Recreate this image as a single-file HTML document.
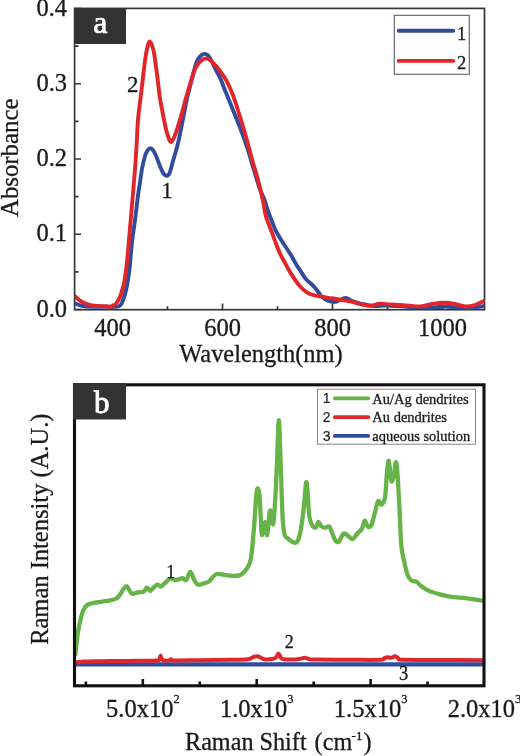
<!DOCTYPE html>
<html><head><meta charset="utf-8"><title>Absorbance and Raman spectra</title>
<style>
html,body{margin:0;padding:0;background:#fff;}
body{width:520px;height:756px;overflow:hidden;}
svg{display:block;}
</style></head><body>
<svg width="520" height="756" viewBox="0 0 520 756">
<g>
<clipPath id="c1"><rect x="75" y="8" width="409.5" height="301.5"/></clipPath>
<clipPath id="c2"><rect x="75" y="384" width="409" height="301"/></clipPath>
<rect x="74.6" y="8.4" width="409.9" height="301.3" fill="none" stroke="#363636" stroke-width="1.7"/>
<path d="M75 309.50 h6 M75 271.88 h3.5 M75 234.25 h6 M75 196.62 h3.5 M75 159.00 h6 M75 121.38 h3.5 M75 83.75 h6 M75 46.12 h3.5 M75 8.50 h6 M112.50 309.7 v-6.2 M167.50 309.7 v-3.5 M222.50 309.7 v-6.2 M277.50 309.7 v-3.5 M332.50 309.7 v-6.2 M387.50 309.7 v-3.5 M442.50 309.7 v-6.2" stroke="#363636" stroke-width="1.7" fill="none"/>
<g clip-path="url(#c1)" fill="none" stroke-width="3.9" stroke-linejoin="round" stroke-linecap="round">
<path d="M75.00 303.30 C75.83 303.63 78.33 304.80 80.00 305.30 C81.67 305.80 82.50 306.07 85.00 306.30 C87.50 306.53 90.83 306.62 95.00 306.70 C99.17 306.78 106.67 306.78 110.00 306.80 C113.33 306.82 113.58 306.90 115.00 306.80 C116.42 306.70 117.50 306.58 118.50 306.20 C119.50 305.82 120.08 305.95 121.00 304.50 C121.92 303.05 123.12 300.08 124.00 297.50 C124.88 294.92 125.63 291.92 126.30 289.00 C126.97 286.08 127.42 283.77 128.00 280.00 C128.58 276.23 129.27 271.40 129.80 266.40 C130.33 261.40 130.73 254.90 131.20 250.00 C131.67 245.10 132.03 241.45 132.60 237.00 C133.17 232.55 133.70 230.20 134.60 223.30 C135.50 216.40 137.08 202.53 138.00 195.60 C138.92 188.67 139.40 186.33 140.10 181.70 C140.80 177.07 141.30 172.33 142.20 167.80 C143.10 163.27 144.53 157.50 145.50 154.50 C146.47 151.50 147.20 150.83 148.00 149.80 C148.80 148.77 149.55 148.35 150.30 148.30 C151.05 148.25 151.72 148.63 152.50 149.50 C153.28 150.37 154.08 151.58 155.00 153.50 C155.92 155.42 157.08 158.67 158.00 161.00 C158.92 163.33 159.58 165.42 160.50 167.50 C161.42 169.58 162.48 172.12 163.50 173.50 C164.52 174.88 165.58 175.88 166.60 175.80 C167.62 175.72 168.53 175.47 169.60 173.00 C170.67 170.53 171.60 165.97 173.00 161.00 C174.40 156.03 176.25 150.63 178.00 143.20 C179.75 135.77 182.00 123.83 183.50 116.40 C185.00 108.97 185.67 104.55 187.00 98.60 C188.33 92.65 189.96 86.65 191.50 80.70 C193.04 74.75 194.83 66.93 196.25 62.90 C197.67 58.87 198.66 58.00 200.00 56.50 C201.34 55.00 203.05 54.15 204.30 53.90 C205.55 53.65 206.38 53.98 207.50 55.00 C208.62 56.02 209.60 57.53 211.00 60.00 C212.40 62.47 214.33 66.72 215.90 69.80 C217.47 72.88 218.92 75.18 220.40 78.50 C221.88 81.82 222.73 84.53 224.80 89.70 C226.87 94.87 230.15 102.88 232.80 109.50 C235.45 116.12 238.22 122.78 240.70 129.40 C243.18 136.02 245.55 142.60 247.70 149.20 C249.85 155.80 251.58 162.38 253.60 169.00 C255.62 175.62 258.00 183.80 259.80 188.90 C261.60 194.00 262.97 195.73 264.40 199.60 C265.83 203.47 267.17 208.57 268.40 212.10 C269.63 215.63 270.60 217.75 271.80 220.80 C273.00 223.85 274.18 227.45 275.60 230.40 C277.02 233.35 278.73 235.90 280.30 238.50 C281.87 241.10 283.33 243.42 285.00 246.00 C286.67 248.58 288.42 250.93 290.30 254.00 C292.18 257.07 294.57 261.53 296.30 264.40 C298.03 267.27 299.17 268.83 300.70 271.20 C302.23 273.57 303.98 276.68 305.50 278.60 C307.02 280.52 308.37 281.35 309.80 282.70 C311.23 284.05 312.65 285.10 314.10 286.70 C315.55 288.30 317.13 290.57 318.50 292.30 C319.87 294.03 320.72 295.68 322.30 297.10 C323.88 298.52 325.88 300.00 328.00 300.80 C330.12 301.60 333.00 302.03 335.00 301.90 C337.00 301.77 338.20 300.65 340.00 300.00 C341.80 299.35 343.97 297.92 345.80 298.00 C347.63 298.08 349.13 299.75 351.00 300.50 C352.87 301.25 354.67 301.83 357.00 302.50 C359.33 303.17 362.00 303.92 365.00 304.50 C368.00 305.08 371.67 305.83 375.00 306.00 C378.33 306.17 381.67 305.50 385.00 305.50 C388.33 305.50 391.67 305.83 395.00 306.00 C398.33 306.17 401.67 306.25 405.00 306.50 C408.33 306.75 411.67 307.33 415.00 307.50 C418.33 307.67 421.67 307.50 425.00 307.50 C428.33 307.50 431.67 307.67 435.00 307.50 C438.33 307.33 441.67 306.50 445.00 306.50 C448.33 306.50 451.67 307.25 455.00 307.50 C458.33 307.75 461.67 308.00 465.00 308.00 C468.33 308.00 471.83 307.83 475.00 307.50 C478.17 307.17 482.50 306.25 484.00 306.00" stroke="#314c9c"/>
<path d="M75.00 296.30 C75.83 297.02 78.33 299.45 80.00 300.60 C81.67 301.75 83.33 302.50 85.00 303.20 C86.67 303.90 88.33 304.37 90.00 304.80 C91.67 305.23 92.50 305.55 95.00 305.80 C97.50 306.05 102.50 306.15 105.00 306.30 C107.50 306.45 108.58 306.78 110.00 306.70 C111.42 306.62 112.42 306.42 113.50 305.80 C114.58 305.18 115.37 304.65 116.50 303.00 C117.63 301.35 119.30 298.23 120.30 295.90 C121.30 293.57 121.87 291.18 122.50 289.00 C123.13 286.82 123.43 286.57 124.10 282.80 C124.77 279.03 125.83 271.87 126.50 266.40 C127.17 260.93 127.62 255.23 128.10 250.00 C128.58 244.77 129.02 239.45 129.40 235.00 C129.78 230.55 129.83 229.87 130.40 223.30 C130.97 216.73 132.02 204.85 132.80 195.60 C133.58 186.35 134.47 176.23 135.10 167.80 C135.73 159.37 136.12 152.97 136.60 145.00 C137.08 137.03 137.38 127.50 138.00 120.00 C138.62 112.50 139.55 106.33 140.30 100.00 C141.05 93.67 141.82 87.77 142.50 82.00 C143.18 76.23 143.70 70.65 144.40 65.40 C145.10 60.15 145.80 54.48 146.70 50.50 C147.60 46.52 148.67 41.50 149.80 41.50 C150.93 41.50 152.50 46.52 153.50 50.50 C154.50 54.48 155.08 60.38 155.80 65.40 C156.52 70.42 157.17 75.53 157.80 80.60 C158.43 85.67 158.85 90.73 159.60 95.80 C160.35 100.87 161.35 105.93 162.30 111.00 C163.25 116.07 164.30 121.87 165.30 126.20 C166.30 130.53 167.30 134.37 168.30 137.00 C169.30 139.63 170.13 142.45 171.30 142.00 C172.47 141.55 173.68 138.57 175.30 134.30 C176.92 130.03 179.25 122.35 181.00 116.40 C182.75 110.45 184.10 104.55 185.80 98.60 C187.50 92.65 189.60 85.77 191.20 80.70 C192.80 75.63 193.82 71.48 195.40 68.20 C196.98 64.92 198.80 62.63 200.70 61.00 C202.60 59.37 204.82 58.17 206.80 58.40 C208.78 58.63 210.90 60.97 212.60 62.40 C214.30 63.83 215.53 65.25 217.00 67.00 C218.47 68.75 219.93 70.83 221.40 72.90 C222.87 74.97 224.47 77.10 225.80 79.40 C227.13 81.70 228.18 84.02 229.40 86.70 C230.62 89.38 231.97 92.53 233.10 95.50 C234.23 98.47 235.17 101.32 236.20 104.50 C237.23 107.68 237.75 109.52 239.30 114.60 C240.85 119.68 243.32 127.30 245.50 135.00 C247.68 142.70 250.40 153.63 252.40 160.80 C254.40 167.97 256.17 173.22 257.50 178.00 C258.83 182.78 259.45 185.50 260.40 189.50 C261.35 193.50 262.33 197.75 263.20 202.00 C264.07 206.25 264.72 211.38 265.60 215.00 C266.48 218.62 267.38 220.65 268.50 223.70 C269.62 226.75 271.10 230.10 272.30 233.30 C273.50 236.50 274.42 239.53 275.70 242.90 C276.98 246.27 278.48 250.23 280.00 253.50 C281.52 256.77 283.20 259.55 284.80 262.50 C286.40 265.45 288.00 268.48 289.60 271.20 C291.20 273.92 292.63 276.25 294.40 278.80 C296.17 281.35 298.12 284.25 300.20 286.50 C302.28 288.75 304.65 290.85 306.90 292.30 C309.15 293.75 311.45 294.52 313.70 295.20 C315.95 295.88 318.02 295.97 320.40 296.40 C322.78 296.83 325.57 297.40 328.00 297.80 C330.43 298.20 332.17 298.35 335.00 298.80 C337.83 299.25 341.67 299.88 345.00 300.50 C348.33 301.12 352.17 301.83 355.00 302.50 C357.83 303.17 359.50 303.93 362.00 304.50 C364.50 305.07 367.00 306.03 370.00 305.90 C373.00 305.77 376.67 303.93 380.00 303.70 C383.33 303.47 386.67 304.28 390.00 304.50 C393.33 304.72 396.67 304.78 400.00 305.00 C403.33 305.22 406.67 305.55 410.00 305.80 C413.33 306.05 416.33 306.80 420.00 306.50 C423.67 306.20 428.03 304.63 432.00 304.00 C435.97 303.37 439.97 302.70 443.80 302.70 C447.63 302.70 451.47 303.37 455.00 304.00 C458.53 304.63 461.67 306.33 465.00 306.50 C468.33 306.67 471.83 305.92 475.00 305.00 C478.17 304.08 482.50 301.67 484.00 301.00" stroke="#e1262b"/>
</g>
<text transform="translate(67.00 316.50) scale(1 1.050)" text-anchor="end" font-size="24.5" font-family="'Liberation Serif', 'Times New Roman', serif" fill="#1a1a1a" stroke="#1a1a1a" stroke-width="0.3">0.0</text>
<text transform="translate(67.00 241.25) scale(1 1.050)" text-anchor="end" font-size="24.5" font-family="'Liberation Serif', 'Times New Roman', serif" fill="#1a1a1a" stroke="#1a1a1a" stroke-width="0.3">0.1</text>
<text transform="translate(67.00 166.00) scale(1 1.050)" text-anchor="end" font-size="24.5" font-family="'Liberation Serif', 'Times New Roman', serif" fill="#1a1a1a" stroke="#1a1a1a" stroke-width="0.3">0.2</text>
<text transform="translate(67.00 90.75) scale(1 1.050)" text-anchor="end" font-size="24.5" font-family="'Liberation Serif', 'Times New Roman', serif" fill="#1a1a1a" stroke="#1a1a1a" stroke-width="0.3">0.3</text>
<text transform="translate(67.00 15.50) scale(1 1.050)" text-anchor="end" font-size="24.5" font-family="'Liberation Serif', 'Times New Roman', serif" fill="#1a1a1a" stroke="#1a1a1a" stroke-width="0.3">0.4</text>
<text transform="translate(112.50 336.20) scale(1 1.060)" text-anchor="middle" font-size="24.5" font-family="'Liberation Serif', 'Times New Roman', serif" fill="#1a1a1a" stroke="#1a1a1a" stroke-width="0.3">400</text>
<text transform="translate(222.50 336.20) scale(1 1.060)" text-anchor="middle" font-size="24.5" font-family="'Liberation Serif', 'Times New Roman', serif" fill="#1a1a1a" stroke="#1a1a1a" stroke-width="0.3">600</text>
<text transform="translate(332.50 336.20) scale(1 1.060)" text-anchor="middle" font-size="24.5" font-family="'Liberation Serif', 'Times New Roman', serif" fill="#1a1a1a" stroke="#1a1a1a" stroke-width="0.3">800</text>
<text transform="translate(442.50 336.20) scale(1 1.060)" text-anchor="middle" font-size="24.5" font-family="'Liberation Serif', 'Times New Roman', serif" fill="#1a1a1a" stroke="#1a1a1a" stroke-width="0.3">1000</text>
<text x="260.9" y="362" text-anchor="middle" font-size="24.4" font-family="'Liberation Serif', 'Times New Roman', serif" fill="#1a1a1a" stroke="#1a1a1a" stroke-width="0.3">Wavelength(nm)</text>
<text transform="translate(18 157.8) rotate(-90)" text-anchor="middle" font-size="24.8" font-family="'Liberation Serif', 'Times New Roman', serif" fill="#1a1a1a" stroke="#1a1a1a" stroke-width="0.3">Absorbance</text>
<rect x="74" y="8.3" width="52" height="35.7" fill="#333"/>
<text x="100.4" y="33.4" text-anchor="middle" font-size="32" stroke="#fff" stroke-width="0.7" font-family="'Liberation Serif', 'Times New Roman', serif" fill="#fff">a</text>
<rect x="394.3" y="15.3" width="75" height="59" fill="none" stroke="#5c5c66" stroke-width="1.1"/>
<path d="M398.7 30.8 H453.2" stroke="#314c9c" stroke-width="3.9" stroke-linecap="round"/>
<path d="M398.7 60.9 H453.2" stroke="#e1262b" stroke-width="3.9" stroke-linecap="round"/>
<text x="461.7" y="39.8" text-anchor="middle" font-size="18.5" font-family="'Liberation Serif', 'Times New Roman', serif" fill="#1a1a1a" stroke="#1a1a1a" stroke-width="0.3">1</text>
<text x="461.7" y="68.7" text-anchor="middle" font-size="18.5" font-family="'Liberation Serif', 'Times New Roman', serif" fill="#1a1a1a" stroke="#1a1a1a" stroke-width="0.3">2</text>
<text x="132.7" y="91.5" text-anchor="middle" font-size="23" font-family="'Liberation Serif', 'Times New Roman', serif" fill="#1a1a1a" stroke="#1a1a1a" stroke-width="0.3">2</text>
<text x="167" y="197.9" text-anchor="middle" font-size="23" font-family="'Liberation Serif', 'Times New Roman', serif" fill="#1a1a1a" stroke="#1a1a1a" stroke-width="0.3">1</text>
</g>
<g clip-path="url(#c2)" fill="none" stroke-linejoin="round" stroke-linecap="round">
<path d="M75 664.4 H484" stroke="#314c9c" stroke-width="4.2"/>
<path d="M75.00 662.50 C76.67 662.33 80.83 661.72 85.00 661.50 C89.17 661.28 94.17 661.28 100.00 661.20 C105.83 661.12 113.33 661.07 120.00 661.00 C126.67 660.93 133.83 660.87 140.00 660.80 C146.17 660.73 153.75 660.90 157.00 660.60 C160.25 660.30 158.90 659.85 159.50 659.00 C160.10 658.15 160.23 655.50 160.60 655.50 C160.97 655.50 161.13 658.17 161.70 659.00 C162.27 659.83 162.78 660.27 164.00 660.50 C165.22 660.73 167.83 660.62 169.00 660.40 C170.17 660.18 170.33 659.20 171.00 659.20 C171.67 659.20 168.17 660.23 173.00 660.40 C177.83 660.57 190.50 660.30 200.00 660.20 C209.50 660.10 222.50 659.92 230.00 659.80 C237.50 659.68 241.67 659.67 245.00 659.50 C248.33 659.33 248.58 659.22 250.00 658.80 C251.42 658.38 252.33 657.42 253.50 657.00 C254.67 656.58 255.83 656.22 257.00 656.30 C258.17 656.38 259.33 657.02 260.50 657.50 C261.67 657.98 262.08 658.95 264.00 659.20 C265.92 659.45 270.00 659.28 272.00 659.00 C274.00 658.72 274.92 658.42 276.00 657.50 C277.08 656.58 277.67 653.45 278.50 653.50 C279.33 653.55 280.08 656.83 281.00 657.80 C281.92 658.77 281.67 659.03 284.00 659.30 C286.33 659.57 292.33 659.48 295.00 659.40 C297.67 659.32 298.40 659.07 300.00 658.80 C301.60 658.53 303.10 657.77 304.60 657.80 C306.10 657.83 307.27 658.70 309.00 659.00 C310.73 659.30 308.17 659.47 315.00 659.60 C321.83 659.73 339.17 659.77 350.00 659.80 C360.83 659.83 374.33 660.02 380.00 659.80 C385.67 659.58 382.78 658.93 384.00 658.50 C385.22 658.07 386.22 657.32 387.30 657.20 C388.38 657.08 389.63 657.78 390.50 657.80 C391.37 657.82 391.68 657.55 392.50 657.30 C393.32 657.05 394.40 656.10 395.40 656.30 C396.40 656.50 397.23 657.92 398.50 658.50 C399.77 659.08 396.08 659.55 403.00 659.80 C409.92 660.05 426.50 659.92 440.00 660.00 C453.50 660.08 476.67 660.25 484.00 660.30" stroke="#e1262b" stroke-width="4"/>
<path d="M75.40 654.60 C75.78 651.13 76.80 639.82 77.70 633.80 C78.60 627.78 79.78 622.60 80.80 618.50 C81.82 614.40 82.65 611.52 83.80 609.20 C84.95 606.88 86.17 605.63 87.70 604.60 C89.23 603.57 90.82 603.47 93.00 603.00 C95.18 602.53 97.97 602.25 100.80 601.80 C103.63 601.35 107.43 600.85 110.00 600.30 C112.57 599.75 114.53 599.45 116.20 598.50 C117.87 597.55 118.73 596.27 120.00 594.60 C121.27 592.93 122.65 589.90 123.80 588.50 C124.95 587.10 126.00 585.95 126.90 586.20 C127.80 586.45 128.30 588.73 129.20 590.00 C130.10 591.27 130.88 593.42 132.30 593.80 C133.72 594.18 135.78 592.68 137.70 592.30 C139.62 591.92 142.27 592.27 143.80 591.50 C145.33 590.73 145.87 587.82 146.90 587.70 C147.93 587.58 149.23 590.47 150.00 590.80 C150.77 591.13 150.28 590.73 151.50 589.70 C152.72 588.67 155.75 585.13 157.30 584.60 C158.85 584.07 159.52 586.77 160.80 586.50 C162.08 586.23 163.47 584.28 165.00 583.00 C166.53 581.72 168.40 579.30 170.00 578.80 C171.60 578.30 173.27 579.88 174.60 580.00 C175.93 580.12 176.65 579.80 178.00 579.50 C179.35 579.20 181.33 578.12 182.70 578.20 C184.07 578.28 184.93 581.03 186.20 580.00 C187.47 578.97 188.97 572.00 190.30 572.00 C191.63 572.00 192.97 577.90 194.20 580.00 C195.43 582.10 196.15 584.02 197.70 584.60 C199.25 585.18 201.58 584.07 203.50 583.50 C205.42 582.93 207.08 582.75 209.20 581.20 C211.32 579.65 213.12 575.17 216.20 574.20 C219.28 573.23 223.87 575.20 227.70 575.40 C231.53 575.60 236.12 576.37 239.20 575.40 C242.28 574.43 244.27 572.30 246.20 569.60 C248.13 566.90 249.52 565.97 250.80 559.20 C252.08 552.43 252.98 539.65 253.90 529.00 C254.82 518.35 255.63 502.07 256.30 495.30 C256.97 488.53 257.37 488.40 257.90 488.40 C258.43 488.40 259.00 489.87 259.50 495.30 C260.00 500.73 260.50 514.38 260.90 521.00 C261.30 527.62 261.42 534.33 261.90 535.00 C262.38 535.67 263.22 527.00 263.80 525.00 C264.38 523.00 264.83 521.33 265.40 523.00 C265.97 524.67 266.47 536.97 267.20 535.00 C267.93 533.03 269.10 514.20 269.80 511.20 C270.50 508.20 270.80 515.03 271.40 517.00 C272.00 518.97 272.67 527.67 273.40 523.00 C274.13 518.33 275.13 500.83 275.80 489.00 C276.47 477.17 276.97 462.78 277.40 452.00 C277.83 441.22 278.08 428.75 278.40 424.30 C278.72 419.85 278.88 417.77 279.30 425.30 C279.72 432.83 280.33 453.88 280.90 469.50 C281.47 485.12 282.07 508.08 282.70 519.00 C283.33 529.92 283.72 531.67 284.70 535.00 C285.68 538.33 287.28 537.83 288.60 539.00 C289.92 540.17 291.23 541.50 292.60 542.00 C293.97 542.50 295.53 543.50 296.80 542.00 C298.07 540.50 299.07 538.47 300.20 533.00 C301.33 527.53 302.62 517.58 303.60 509.20 C304.58 500.82 305.42 485.40 306.10 482.70 C306.78 480.00 307.17 487.42 307.70 493.00 C308.23 498.58 308.53 510.80 309.30 516.20 C310.07 521.60 311.22 523.48 312.30 525.40 C313.38 527.32 314.77 528.28 315.80 527.70 C316.83 527.12 317.55 522.10 318.50 521.90 C319.45 521.70 320.42 525.53 321.50 526.50 C322.58 527.47 323.72 527.70 325.00 527.70 C326.28 527.70 328.05 525.73 329.20 526.50 C330.35 527.27 330.87 529.98 331.90 532.30 C332.93 534.62 334.25 538.87 335.40 540.40 C336.55 541.93 337.45 542.65 338.80 541.50 C340.15 540.35 341.97 534.45 343.50 533.50 C345.03 532.55 346.47 534.85 348.00 535.80 C349.53 536.75 351.15 539.58 352.70 539.20 C354.25 538.82 355.77 535.23 357.30 533.50 C358.83 531.77 360.67 530.92 361.90 528.80 C363.13 526.68 363.73 521.18 364.70 520.80 C365.67 520.42 366.62 525.73 367.70 526.50 C368.78 527.27 370.05 527.52 371.20 525.40 C372.35 523.28 373.45 517.83 374.60 513.80 C375.75 509.77 376.95 502.73 378.10 501.20 C379.25 499.67 380.35 505.18 381.50 504.60 C382.65 504.02 384.12 502.70 385.00 497.70 C385.88 492.70 386.22 480.75 386.80 474.60 C387.38 468.45 387.97 461.57 388.50 460.80 C389.03 460.03 389.50 466.55 390.00 470.00 C390.50 473.45 390.80 480.73 391.50 481.50 C392.20 482.27 393.55 477.68 394.20 474.60 C394.85 471.52 394.93 464.15 395.40 463.00 C395.87 461.85 396.35 460.77 397.00 467.70 C397.65 474.63 398.58 491.65 399.30 504.60 C400.02 517.55 400.48 535.92 401.30 545.40 C402.12 554.88 403.20 556.70 404.20 561.50 C405.20 566.30 406.13 571.05 407.30 574.20 C408.47 577.35 409.60 579.10 411.20 580.40 C412.80 581.70 415.30 581.10 416.90 582.00 C418.50 582.90 418.87 584.37 420.80 585.80 C422.73 587.23 425.30 589.17 428.50 590.60 C431.70 592.03 436.17 593.35 440.00 594.40 C443.83 595.45 447.02 596.25 451.50 596.90 C455.98 597.55 461.60 597.65 466.90 598.30 C472.20 598.95 480.57 600.38 483.30 600.80" stroke="#66b347" stroke-width="4.3"/>
</g>
<rect x="74.5" y="384.8" width="409.5" height="301" fill="none" stroke="#111" stroke-width="3.1"/>
<path d="M85.89 685 v-3.5 M142.83 685 v-6 M199.78 685 v-3.5 M256.72 685 v-6 M313.67 685 v-3.5 M370.61 685 v-6 M427.56 685 v-3.5" stroke="#111" stroke-width="2.6" fill="none"/>
<text transform="translate(142.83 717.00) scale(1 1.030)" text-anchor="middle" font-size="24.5" font-family="'Liberation Serif', 'Times New Roman', serif" fill="#1a1a1a" stroke="#1a1a1a" stroke-width="0.3">5.0x10<tspan font-size="12.5" dy="-13.3" stroke="#1a1a1a" stroke-width="0.3">2</tspan></text>
<text transform="translate(256.72 717.00) scale(1 1.030)" text-anchor="middle" font-size="24.5" font-family="'Liberation Serif', 'Times New Roman', serif" fill="#1a1a1a" stroke="#1a1a1a" stroke-width="0.3">1.0x10<tspan font-size="12.5" dy="-13.3" stroke="#1a1a1a" stroke-width="0.3">3</tspan></text>
<text transform="translate(370.61 717.00) scale(1 1.030)" text-anchor="middle" font-size="24.5" font-family="'Liberation Serif', 'Times New Roman', serif" fill="#1a1a1a" stroke="#1a1a1a" stroke-width="0.3">1.5x10<tspan font-size="12.5" dy="-13.3" stroke="#1a1a1a" stroke-width="0.3">3</tspan></text>
<text transform="translate(484.50 717.00) scale(1 1.030)" text-anchor="middle" font-size="24.5" font-family="'Liberation Serif', 'Times New Roman', serif" fill="#1a1a1a" stroke="#1a1a1a" stroke-width="0.3">2.0x10<tspan font-size="12.5" dy="-13.3" stroke="#1a1a1a" stroke-width="0.3">3</tspan></text>
<text y="749.5" font-size="24.2" font-family="'Liberation Serif', 'Times New Roman', serif" fill="#1a1a1a" stroke="#1a1a1a" stroke-width="0.3"><tspan x="185">Raman Shift</tspan><tspan x="314.6">(cm</tspan><tspan x="351.6" y="740" font-size="13">-1</tspan><tspan x="363.6" y="749.5">)</tspan></text>
<text transform="translate(48.0 529.2) rotate(-90)" text-anchor="middle" font-size="24.5" font-family="'Liberation Serif', 'Times New Roman', serif" fill="#1a1a1a" stroke="#1a1a1a" stroke-width="0.3">Raman Intensity (A.U.)</text>
<rect x="73" y="383" width="53" height="36.5" fill="#333"/>
<text x="101.8" y="413.2" text-anchor="middle" font-size="31" stroke="#fff" stroke-width="0.9" font-family="'Liberation Serif', 'Times New Roman', serif" fill="#fff">b</text>
<rect x="317.5" y="389.2" width="158" height="55" fill="#fff" stroke="#888" stroke-width="1"/>
<text x="326.6" y="403.40" text-anchor="middle" font-size="14" stroke="#1a1a1a" stroke-width="0.15" font-family="'Liberation Sans', Arial, sans-serif" fill="#1a1a1a">1</text>
<path d="M334.8 398.40 H368.3" stroke="#66b347" stroke-width="3.7" stroke-linecap="round"/>
<text x="372.3" y="403.70" font-size="14.5" stroke="#1a1a1a" stroke-width="0.3" font-family="'Liberation Serif', 'Times New Roman', serif" fill="#1a1a1a">Au/Ag dendrites</text>
<text x="326.6" y="422.15" text-anchor="middle" font-size="14" stroke="#1a1a1a" stroke-width="0.15" font-family="'Liberation Sans', Arial, sans-serif" fill="#1a1a1a">2</text>
<path d="M334.8 417.15 H368.3" stroke="#e1262b" stroke-width="3.7" stroke-linecap="round"/>
<text x="372.3" y="422.45" font-size="14.5" stroke="#1a1a1a" stroke-width="0.3" font-family="'Liberation Serif', 'Times New Roman', serif" fill="#1a1a1a">Au dendrites</text>
<text x="326.6" y="440.90" text-anchor="middle" font-size="14" stroke="#1a1a1a" stroke-width="0.15" font-family="'Liberation Sans', Arial, sans-serif" fill="#1a1a1a">3</text>
<path d="M334.8 435.90 H368.3" stroke="#314c9c" stroke-width="3.7" stroke-linecap="round"/>
<text x="372.3" y="441.20" font-size="14.5" stroke="#1a1a1a" stroke-width="0.3" font-family="'Liberation Serif', 'Times New Roman', serif" fill="#1a1a1a">aqueous solution</text>
<text transform="translate(170.80 578.40) scale(1 1.050)" text-anchor="middle" font-size="18" font-family="'Liberation Serif', 'Times New Roman', serif" fill="#1a1a1a" stroke="#1a1a1a" stroke-width="0.3">1</text>
<text transform="translate(289.20 648.40) scale(1 1.050)" text-anchor="middle" font-size="18" font-family="'Liberation Serif', 'Times New Roman', serif" fill="#1a1a1a" stroke="#1a1a1a" stroke-width="0.3">2</text>
<text transform="translate(403.50 680.40) scale(1 1.080)" text-anchor="middle" font-size="18.5" font-family="'Liberation Serif', 'Times New Roman', serif" fill="#1a1a1a" stroke="#1a1a1a" stroke-width="0.3">3</text>
</svg>
</body></html>
